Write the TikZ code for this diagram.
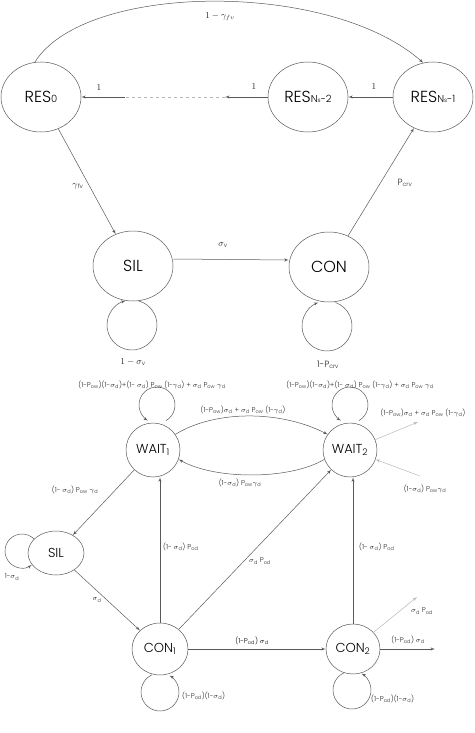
\documentclass[tikz,border=0pt]{standalone}
\usepackage[no-math]{fontspec}
\setmainfont{Poppins}[UprightFont={* Light}]
\usepackage{tikz}
\usetikzlibrary{positioning}
\usetikzlibrary{shapes,backgrounds,arrows}
\definecolor{edgegray}{gray}{0.35}
\definecolor{fadegray}{gray}{0.72}
\tikzstyle{line} = [draw=edgegray, line width=0.5pt, -latex']
\tikzstyle{fadeline} = [draw=fadegray, line width=0.5pt, -latex']
\tikzstyle{bigstate} = [draw=edgegray, line width=0.5pt, ellipse, inner sep=0pt, minimum width=80pt, minimum height=70pt, font=\fontsize{16}{18}\selectfont]
\tikzstyle{smallstate} = [draw=edgegray, line width=0.5pt, ellipse, inner sep=0pt, minimum width=54pt, minimum height=54pt, font=\fontsize{13}{15}\selectfont]
\tikzstyle{lbl} = [font=\fontsize{7}{8}\selectfont, text=black!85, inner sep=1pt]
\tikzstyle{vlbl} = [font=\fontsize{9}{10}\selectfont, text=black!85, inner sep=1pt]
\newcommand{\sigd}{$\sigma$\textsubscript{d}}
\newcommand{\gamd}{$\gamma$\textsubscript{d}}
\newcommand{\Pow}{P\textsubscript{ow}}
\newcommand{\Pod}{P\textsubscript{od}}
\newcommand{\residx}[1]{{\fontsize{10}{10}\selectfont #1}}
\begin{document}
\begin{tikzpicture}[x=1pt, y=1pt]
	\useasboundingbox (0,0) rectangle (474,-733);
	% voice source
	\node[bigstate] (res0) at (41,-97) {RES\residx{0}};
	\node[bigstate] (resn2) at (308,-97) {RES\residx{N{\fontsize{6}{6}\selectfont s}-2}};
	\node[bigstate] (resn1) at (433,-97) {RES\residx{N{\fontsize{6}{6}\selectfont s}-1}};
	\node[bigstate] (silv) at (133,-266) {SIL};
	\node[bigstate] (conv) at (329,-267) {CON};
	\coordinate (dotR) at (225,-97);
	\coordinate (dotL) at (125,-97);
	\coordinate (silvloop) at (132,-325);
	\coordinate (convloop) at (327,-326);
	
	\draw[line] (res0.100) .. controls (85,18) and (330,20) .. (resn1.106);
	\draw[line] (resn1) -- (resn2);
	\draw[line] (resn2) -- (dotR);
	\draw[fadegray, dashed] (dotR) -- (dotL);
	\draw[line] (dotL) -- (res0);
	\draw[line] (res0) -- (silv);
	\draw[line] ([yshift=7pt]silv.east) -- ([yshift=7pt]conv.west);
	\draw[line] (conv) -- (resn1);
	\draw[line] ([shift={(75:25)}]silvloop) arc[start angle=75, end angle=-255, radius=25];
	\draw[line] ([shift={(70:25)}]convloop) arc[start angle=70, end angle=-250, radius=25];
	
	\node[vlbl] (gfvtop) at (220,-17) {$1-\gamma_{fv}$};
	\node[vlbl] (onea) at (99,-88) {$1$};
	\node[vlbl] (oneb) at (254,-87) {$1$};
	\node[vlbl] (onec) at (374,-87) {$1$};
	\node[vlbl] (gfv) at (78,-186) {$\gamma$\textsubscript{fv}};
	\node[vlbl] (sigv) at (223,-245) {$\sigma$\textsubscript{v}};
	\node[vlbl] (pcrv) at (405,-183) {P\textsubscript{crv}};
	\node[vlbl] (silvself) at (133,-362) {$1-\sigma$\textsubscript{v}};
	\node[vlbl] (convself) at (328,-365) {1-P\textsubscript{crv}};
	
	% data source
	\node[smallstate] (wait1) at (153,-450) {WAIT\textsubscript{1}};
	\node[smallstate] (wait2) at (350,-450) {WAIT\textsubscript{2}};
	\node[smallstate, minimum width=56pt, minimum height=44pt] (sild) at (56,-553) {SIL};
	\node[smallstate, minimum width=56pt, minimum height=52pt] (con1) at (160,-649) {CON\textsubscript{1}};
	\node[smallstate, minimum width=54pt, minimum height=50pt] (con2) at (353,-649) {CON\textsubscript{2}};
	\coordinate (wait1loop) at (157,-405);
	\coordinate (wait2loop) at (350,-405);
	\coordinate (sildloop) at (22,-551);
	\coordinate (con1loop) at (160,-692);
	\coordinate (con2loop) at (352,-690);
	\coordinate (outW) at (418,-422);
	\coordinate (inW) at (420,-476);
	\coordinate (outUR) at (417,-597);
	\coordinate (outR) at (435,-649);
	
	\draw[line] (wait1.35) .. controls (215,-410) and (280,-410) .. (wait2.145);
	\draw[line] (wait2.200) .. controls (290,-480) and (215,-480) .. (wait1.-20);
	\draw[line] (wait1) -- (sild);
	\draw[line] (sild) -- (con1);
	\draw[line] (con1.north) -- (con1.north |- wait1.south);
	\draw[line] (con1) -- (wait2);
	\draw[line] (con1) -- (con2);
	\draw[line] (con2.north) -- (con2.north |- wait2.south);
	\draw[fadeline] (wait2) -- (outW);
	\draw[fadeline] (inW) -- (wait2);
	\draw[fadeline] (con2) -- (outUR);
	\draw[line] (con2) -- (outR);
	\draw[line] ([shift={(-60:18)}]wait1loop) arc[start angle=-60, end angle=240, radius=18];
	\draw[line] ([shift={(-60:18)}]wait2loop) arc[start angle=-60, end angle=240, radius=18];
	\draw[line] ([shift={(45:17)}]sildloop) arc[start angle=45, end angle=305, radius=17];
	\draw[line] ([shift={(115:19)}]con1loop) arc[start angle=115, end angle=420, radius=19];
	\draw[line] ([shift={(115:19)}]con2loop) arc[start angle=115, end angle=420, radius=19];
	
	\node[lbl] (w1self) at (152,-385) {(1-\Pow)(1-\sigd)+(1- \sigd) \Pow{} (1-\gamd) + \sigd{} \Pow{} \gamd};
	\node[lbl] (w2self) at (360,-385) {(1-\Pow)(1-\sigd)+(1- \sigd) \Pow{} (1-\gamd) + \sigd{} \Pow{} \gamd};
	\node[lbl] (w12) at (243,-410) {(1-\Pow)\sigd{} + \sigd{} \Pow{} (1-\gamd)};
	\node[lbl] (w21) at (240,-483) {(1-\sigd) \Pow\gamd};
	\node[lbl] (w2out) at (423,-413) {(1-\Pow)\sigd{} + \sigd{} \Pow{} (1-\gamd)};
	\node[lbl] (w2in) at (425,-489) {(1-\sigd) \Pow\gamd};
	\node[lbl] (w1sil) at (75,-490) {(1- \sigd) \Pow{} \gamd};
	\node[lbl] (sildself) at (12,-577) {1-\sigd};
	\node[lbl] (sildcon) at (97,-600) {\sigd};
	\node[lbl, anchor=west] (c1w1) at (162,-547) {(1- \sigd) \Pod};
	\node[lbl] (c1w2) at (260,-561) {\sigd{} \Pod};
	\node[lbl, text=black] (c1c2) at (252,-641) {(1-\Pod) \sigd};
	\node[lbl, anchor=west] (c2w2) at (358,-547) {(1- \sigd) \Pod};
	\node[lbl] (c2ur) at (422,-611) {\sigd{} \Pod};
	\node[lbl] (c2r) at (408,-640) {(1-\Pod) \sigd};
	\node[lbl, anchor=west] (c1self) at (181,-696) {(1-\Pod)(1-\sigd)};
	\node[lbl, anchor=west] (c2self) at (370,-699) {(1-\Pod)(1-\sigd)};
\end{tikzpicture}
\end{document}
